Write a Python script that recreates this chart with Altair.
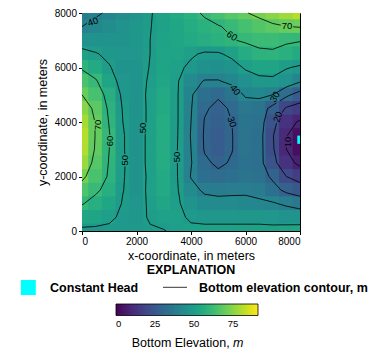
import altair as alt
import numpy as np
import pandas as pd

# ---------------- data ----------------
x_nodes = list(range(0, 8001, 500))          # m
# bottom elevation (m) at grid nodes, one list per row (x = 0 .. 8000)
row_y8000 = [37, 39, 41, 44, 47, 49.5, 52.5, 55.5, 58, 61, 64, 67, 69.5, 72, 75, 78, 81]
row_y7500 = [40, 42, 44, 46, 48, 49.8, 52, 54, 56, 58, 59.5, 61.5, 64, 66.5, 68.5, 69.8, 70.5]
row_y7000 = [46, 46, 46.5, 47, 48.5, 50, 52.5, 54, 55, 56.5, 58, 59.5, 61, 62, 62, 61, 60.5]
row_y6500 = [52.5, 50.5, 48.5, 47.5, 47.5, 50, 53, 53, 51, 49, 49, 52, 56, 58.5, 59, 57.5, 55.5]
row_y6000 = [59, 55, 50.5, 47, 47, 50.3, 53, 51.5, 48.5, 45.5, 45, 46.5, 51, 53, 53, 50.5, 49]
row_y5500 = [65, 61, 53, 47.5, 47, 51, 54, 50.7, 43, 39.5, 39.5, 42, 45.5, 48, 48.5, 46, 41]
row_y5000 = [70, 64.5, 57, 48.5, 47, 51.5, 55, 50.5, 41, 33.5, 31, 35, 41, 42, 40, 32, 26]
row_y4500 = [75, 68, 58.5, 49.5, 46.5, 51.5, 55.5, 50.5, 40.5, 31, 28, 31, 36, 35, 27, 19, 16]
row_y4000 = [79, 69.5, 59.5, 50, 46.5, 51.5, 56, 50.5, 40, 29.5, 27, 30, 35, 34, 23, 13, 9]
row_y3500 = [81, 69.5, 60.5, 50.5, 46.5, 52, 56, 50.3, 39.5, 29, 26.5, 29.7, 34.5, 33.5, 20.5, 10.5, 3]
row_y3000 = [80.5, 69, 60, 50.5, 46.5, 52, 56, 50, 40, 29.3, 26.5, 29.7, 34.5, 33.5, 21, 10, 3]
row_y2500 = [77.5, 67, 59.5, 50.7, 46.5, 52, 56, 50, 40.5, 31.5, 28.5, 30.8, 34, 33, 23, 13, 8]
row_y2000 = [72, 65, 59, 50.5, 46.5, 51.5, 55.5, 50.1, 39.5, 33, 32, 33, 35, 34, 28.5, 20, 16]
row_y1500 = [66, 61.5, 57, 50.2, 47, 51.5, 55, 50.5, 43, 38.5, 37.5, 38, 38.5, 37.5, 33, 28, 25]
row_y1000 = [60.5, 57, 54, 49.5, 47.5, 51, 53.5, 51, 46.5, 43.5, 43, 43, 42.5, 41.5, 41, 38.5, 36]
row_y500 = [54, 53, 51, 49, 48.5, 50.5, 51.5, 51.5, 49, 48, 48, 48, 48, 48, 47.5, 47, 46.5]
row_y0 = [48.5, 48.5, 48.8, 49, 49.2, 49.5, 49.8, 51, 51.5, 52, 52, 52, 52, 52, 52, 52.5, 53]
y_nodes = [8000, 7500, 7000, 6500, 6000, 5500, 5000, 4500, 4000, 3500, 3000, 2500, 2000, 1500, 1000, 500, 0]
elev_rows = [row_y8000, row_y7500, row_y7000, row_y6500, row_y6000, row_y5500, row_y5000,
             row_y4500, row_y4000, row_y3500, row_y3000, row_y2500, row_y2000, row_y1500,
             row_y1000, row_y500, row_y0]

contour_levels = [10, 20, 30, 40, 50, 60, 70]

# contour labels (level, position, rotation) as placed in the picture
label_level = [40, 70, 60, 40, 30, 20, 30, 10, 70, 60, 50, 50, 50]
label_x = [400, 7520, 5500, 5620, 7080, 7190, 5500, 7560, 590, 1030, 1580, 2230, 3480]
label_y = [7670, 7520, 7150, 5170, 4920, 4180, 4000, 3270, 3890, 3300, 2600, 3780, 2720]
label_angle = [340, 0, 35, 50, 300, 290, 70, 270, 270, 270, 270, 270, 270]

# constant-head cell
chd_x0 = [7900]
chd_x1 = [8000]
chd_y0 = [3200]
chd_y1 = [3500]

color_domain = [0, 91]
colorbar_ticks = [0, 25, 50, 75]
axis_ticks = [0, 2000, 4000, 6000, 8000]

FONT = "Liberation Sans"

# ---------------- tables ----------------
half = 250
overlap = 20   # tiny overlap so no anti-aliasing seams show between cells
cells = []
for yv, row in zip(y_nodes, elev_rows):
    for xv, v in zip(x_nodes, row):
        cells.append({"x0": max(0, xv - half - overlap), "x1": min(8000, xv + half + overlap),
                      "y0": max(0, yv - half - overlap), "y1": min(8000, yv + half + overlap),
                      "elev": v})
heat_df = pd.DataFrame(cells)

grid = np.array(elev_rows[::-1], dtype=float)
ys = np.array(y_nodes[::-1], dtype=float)
xs = np.array(x_nodes, dtype=float)

segs = []
for lev in contour_levels:
    for j in range(len(ys) - 1):
        for i in range(len(xs) - 1):
            corners = [(xs[i], ys[j], grid[j, i]), (xs[i + 1], ys[j], grid[j, i + 1]),
                       (xs[i + 1], ys[j + 1], grid[j + 1, i + 1]), (xs[i], ys[j + 1], grid[j + 1, i])]
            pts = {}
            for e in range(4):
                a = corners[e]
                b = corners[(e + 1) % 4]
                va = a[2] - lev or 1e-9
                vb = b[2] - lev or 1e-9
                if va * vb < 0:
                    t = va / (va - vb)
                    pts[e] = (a[0] + t * (b[0] - a[0]), a[1] + t * (b[1] - a[1]))
            if len(pts) == 2:
                p, q = list(pts.values())
                segs.append((lev, p, q))
            elif len(pts) == 4:
                center = sum(c[2] for c in corners) / 4 - lev
                blv = corners[0][2] - lev
                pairs = [(0, 1), (2, 3)] if (center > 0) == (blv > 0) else [(3, 0), (1, 2)]
                for a_, b_ in pairs:
                    segs.append((lev, pts[a_], pts[b_]))

# leave a gap in each contour where its label sits
gap_r = 230.0
labels = list(zip(label_level, label_x, label_y))


def clip_seg(p, q, cx, cy, r):
    dx, dy = q[0] - p[0], q[1] - p[1]
    fx, fy = p[0] - cx, p[1] - cy
    a = dx * dx + dy * dy
    if a == 0:
        return [(p, q)]
    b = 2 * (dx * fx + dy * fy)
    c = fx * fx + fy * fy - r * r
    disc = b * b - 4 * a * c
    if disc <= 0:
        return [(p, q)]
    s = np.sqrt(disc)
    t1, t2 = (-b - s) / (2 * a), (-b + s) / (2 * a)
    if t1 >= 1 or t2 <= 0:
        return [(p, q)]
    out = []
    if t1 > 0:
        out.append((p, (p[0] + t1 * dx, p[1] + t1 * dy)))
    if t2 < 1:
        out.append(((p[0] + t2 * dx, p[1] + t2 * dy), q))
    return out


rows = []
for lev, p, q in segs:
    pieces = [(p, q)]
    for (ll, lx, ly) in labels:
        if ll != lev:
            continue
        new = []
        for a, b in pieces:
            new.extend(clip_seg(a, b, lx, ly, gap_r))
        pieces = new
    for a, b in pieces:
        rows.append({"x": a[0], "y": a[1], "x2": b[0], "y2": b[1], "level": lev})
contour_df = pd.DataFrame(rows)

label_df = pd.DataFrame({"x": label_x, "y": label_y, "angle": label_angle,
                         "txt": [str(v) for v in label_level]})
chd_df = pd.DataFrame({"x0": chd_x0, "x1": chd_x1, "y0": chd_y0, "y1": chd_y1})

# ---------------- chart ----------------
xscale = alt.Scale(domain=[0, 8000], nice=False, zero=False)
yscale = alt.Scale(domain=[0, 8000], nice=False, zero=False)

axis_common = dict(values=axis_ticks, format="d", grid=False, labelFont=FONT, labelFontSize=10,
                   labelColor="black", titleFont=FONT, titleFontSize=12.5, titleFontWeight="normal",
                   titleColor="black", tickColor="black", domainColor="black", tickSize=3.5,
                   labelPadding=2)

heat = alt.Chart(heat_df).mark_rect(strokeWidth=0).encode(
    x=alt.X("x0:Q", scale=xscale, axis=alt.Axis(title="x-coordinate, in meters", titlePadding=3, **axis_common)),
    x2="x1:Q",
    y=alt.Y("y0:Q", scale=yscale, axis=alt.Axis(title="y-coordinate, in meters", titlePadding=5, **axis_common)),
    y2="y1:Q",
    color=alt.Color("elev:Q", scale=alt.Scale(scheme="viridis", domain=color_domain),
                    legend=alt.Legend(orient="none", legendX=34, legendY=291, direction="horizontal",
                                      gradientLength=142, gradientThickness=11.5, title=None,
                                      values=colorbar_ticks, labelFont=FONT, labelFontSize=9.5,
                                      labelColor="black", labelAlign="center", labelOverlap=False,
                                      gradientStrokeColor="black", gradientStrokeWidth=0.8,
                                      labelOffset=3)),
)

chd = alt.Chart(chd_df).mark_rect(fill="#00ffff", strokeWidth=0).encode(
    x=alt.X("x0:Q", scale=xscale), x2="x1:Q", y=alt.Y("y0:Q", scale=yscale), y2="y1:Q")

contours = alt.Chart(contour_df).mark_rule(stroke="black", strokeWidth=0.8).encode(
    x=alt.X("x:Q", scale=xscale), y=alt.Y("y:Q", scale=yscale), x2="x2:Q", y2="y2:Q")

clabels = alt.Chart(label_df).mark_text(font=FONT, fontSize=9.5, fill="black", opacity=1).encode(
    x=alt.X("x:Q", scale=xscale), y=alt.Y("y:Q", scale=yscale), text="txt:N",
    angle=alt.Angle("angle:Q", scale=None))

one = pd.DataFrame({"k": [0]})


def txt(s, x, y, size=12.5, weight="bold", align="left", style="normal"):
    return alt.Chart(one).mark_text(text=s, font=FONT, fontSize=size, fontWeight=weight,
                                    fontStyle=style, align=align, baseline="middle",
                                    fill="black").encode(x=alt.value(x), y=alt.value(y))


explanation = txt("EXPLANATION", 109, 256.5, align="center")
chd_sym = alt.Chart(one).mark_square(size=225, fill="#00ffff", opacity=1, strokeWidth=0).encode(
    x=alt.value(-53.7), y=alt.value(274.5))
chd_txt = txt("Constant Head", -32, 274.5)
line_sym = alt.Chart(one).mark_rule(stroke="black", strokeWidth=0.8).encode(
    x=alt.value(81), x2=alt.value(105), y=alt.value(274.3))
line_txt = txt("Bottom elevation contour, m", 117, 274.5)
cb_title1 = txt("Bottom Elevation, ", 49.7, 330, weight="normal")
cb_title2 = txt("m", 151.1, 330, weight="normal", style="italic")

chart = alt.layer(heat, chd, contours, clabels, explanation, chd_sym, chd_txt, line_sym,
                  line_txt, cb_title1, cb_title2).properties(
    width=218, height=218, padding={"left": 12, "top": 0, "right": 5, "bottom": 5}
).configure_view(stroke="black", strokeWidth=1)

chart.save("out.html", embed_options={"renderer": "svg", "actions": False})
